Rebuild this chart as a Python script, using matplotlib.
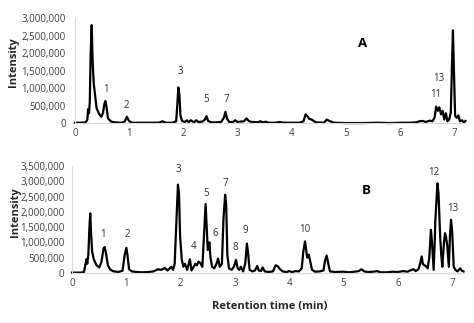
import matplotlib
matplotlib.use("Agg")
import matplotlib.pyplot as plt
from matplotlib.ticker import FuncFormatter, MultipleLocator

plt.rcParams['font.family'] = ['Open Sans', 'DejaVu Sans']

# Chromatogram A: retention time (min) and intensity (millions of counts)
time_a = [0.00, 0.10, 0.20, 0.23, 0.245, 0.26, 0.275, 0.29, 0.31, 0.325, 0.336, 0.35,
          0.40, 0.45, 0.49, 0.52, 0.545, 0.563, 0.58, 0.61, 0.67, 0.75, 0.85, 0.92,
          0.96, 1.00, 1.05, 1.20, 1.40, 1.55, 1.62, 1.68, 1.80, 1.87, 1.89, 1.91,
          1.93, 1.95, 1.98, 2.03, 2.07, 2.10, 2.14, 2.20, 2.24, 2.28, 2.35, 2.40,
          2.43, 2.46, 2.52, 2.60, 2.70, 2.75, 2.78, 2.81, 2.85, 2.92, 2.96, 3.00,
          3.05, 3.12, 3.17, 3.21, 3.26, 3.32, 3.38, 3.42, 3.48, 3.52, 3.58, 3.70,
          3.78, 3.85, 4.00, 4.15, 4.22, 4.26, 4.30, 4.33, 4.37, 4.45, 4.60, 4.65,
          4.70, 4.78, 5.00, 5.30, 5.60, 5.80, 6.05, 6.20, 6.30, 6.36, 6.42, 6.48,
          6.55, 6.60, 6.64, 6.67, 6.70, 6.73, 6.76, 6.79, 6.82, 6.85, 6.88, 6.91,
          6.94, 6.96, 6.98, 7.00, 7.02, 7.05, 7.08, 7.11, 7.15, 7.18, 7.21]
intensity_a = [0.01, 0.01, 0.02, 0.10, 0.40, 0.28, 0.60, 1.90, 2.80, 1.90, 1.47, 1.10,
               0.43, 0.25, 0.18, 0.30, 0.55, 0.63, 0.50, 0.14, 0.04, 0.02, 0.01, 0.04,
               0.18, 0.06, 0.01, 0.01, 0.01, 0.01, 0.05, 0.01, 0.01, 0.05, 0.50, 1.02,
               0.80, 0.20, 0.06, 0.03, 0.08, 0.02, 0.08, 0.02, 0.08, 0.03, 0.04, 0.10,
               0.20, 0.06, 0.02, 0.02, 0.03, 0.15, 0.32, 0.12, 0.03, 0.03, 0.08, 0.03,
               0.04, 0.05, 0.13, 0.06, 0.03, 0.03, 0.02, 0.05, 0.02, 0.04, 0.01, 0.01,
               0.03, 0.01, 0.01, 0.01, 0.05, 0.25, 0.18, 0.12, 0.10, 0.02, 0.01, 0.10,
               0.06, 0.01, 0.00, 0.00, 0.01, 0.00, 0.01, 0.01, 0.02, 0.05, 0.06, 0.03,
               0.07, 0.05, 0.15, 0.47, 0.35, 0.45, 0.25, 0.35, 0.10, 0.28, 0.05, 0.10,
               0.30, 1.50, 2.65, 1.40, 0.20, 0.15, 0.22, 0.05, 0.08, 0.02, 0.06]

# Chromatogram B
time_b = [0.00, 0.15, 0.22, 0.25, 0.265, 0.28, 0.30, 0.32, 0.335, 0.35, 0.37, 0.40,
          0.45, 0.50, 0.54, 0.58, 0.60, 0.62, 0.66, 0.70, 0.75, 0.85, 0.93, 0.97,
          1.00, 1.02, 1.05, 1.10, 1.20, 1.30, 1.40, 1.50, 1.58, 1.64, 1.71, 1.76,
          1.83, 1.86, 1.89, 1.92, 1.95, 1.97, 1.99, 2.02, 2.05, 2.08, 2.12, 2.17,
          2.20, 2.24, 2.27, 2.30, 2.33, 2.36, 2.40, 2.43, 2.46, 2.48, 2.50, 2.53,
          2.55, 2.58, 2.62, 2.66, 2.69, 2.72, 2.76, 2.79, 2.82, 2.84, 2.86, 2.89,
          2.94, 2.98, 3.02, 3.05, 3.08, 3.11, 3.15, 3.19, 3.22, 3.24, 3.27, 3.32,
          3.37, 3.41, 3.44, 3.48, 3.51, 3.55, 3.62, 3.70, 3.75, 3.79, 3.83, 3.88,
          3.95, 4.00, 4.05, 4.12, 4.18, 4.23, 4.26, 4.29, 4.31, 4.33, 4.36, 4.39,
          4.42, 4.48, 4.56, 4.63, 4.66, 4.69, 4.72, 4.75, 4.85, 5.00, 5.10, 5.20,
          5.28, 5.33, 5.38, 5.45, 5.55, 5.62, 5.68, 5.80, 5.90, 6.00, 6.10, 6.18,
          6.25, 6.29, 6.33, 6.38, 6.41, 6.44, 6.46, 6.49, 6.52, 6.55, 6.58, 6.61,
          6.63, 6.66, 6.68, 6.69, 6.73, 6.75, 6.78, 6.80, 6.82, 6.85, 6.87, 6.89,
          6.91, 6.94, 6.96, 6.98, 7.00, 7.03, 7.06, 7.10, 7.15, 7.18, 7.21]
intensity_b = [0.01, 0.01, 0.03, 0.30, 0.45, 0.30, 0.60, 1.50, 1.95, 1.30, 0.70, 0.45,
               0.25, 0.18, 0.35, 0.80, 0.85, 0.70, 0.25, 0.12, 0.06, 0.03, 0.07, 0.60,
               0.82, 0.60, 0.12, 0.05, 0.03, 0.02, 0.03, 0.05, 0.12, 0.10, 0.16, 0.08,
               0.20, 0.10, 0.30, 1.60, 2.89, 2.60, 1.20, 0.45, 0.20, 0.30, 0.10, 0.45,
               0.08, 0.20, 0.30, 0.25, 0.37, 0.33, 0.20, 1.20, 2.26, 1.50, 0.75, 1.00,
               0.50, 0.20, 0.15, 0.30, 0.47, 0.20, 0.30, 1.80, 2.56, 2.20, 0.60, 0.15,
               0.10, 0.20, 0.43, 0.15, 0.10, 0.20, 0.05, 0.30, 0.96, 0.70, 0.10, 0.05,
               0.08, 0.23, 0.08, 0.06, 0.18, 0.05, 0.03, 0.05, 0.25, 0.22, 0.12, 0.05,
               0.03, 0.06, 0.03, 0.06, 0.05, 0.15, 0.70, 1.03, 0.80, 0.50, 0.60, 0.35,
               0.10, 0.04, 0.05, 0.08, 0.40, 0.57, 0.30, 0.05, 0.03, 0.04, 0.02, 0.04,
               0.06, 0.12, 0.05, 0.03, 0.04, 0.06, 0.02, 0.02, 0.04, 0.03, 0.06, 0.04,
               0.10, 0.12, 0.06, 0.12, 0.30, 0.54, 0.30, 0.25, 0.22, 0.15, 0.50, 1.41,
               1.00, 0.10, 1.00, 1.68, 2.93, 2.60, 1.20, 0.60, 0.20, 1.00, 1.30, 1.15,
               0.90, 0.20, 1.20, 1.74, 1.40, 0.20, 0.10, 0.05, 0.15, 0.07, 0.05]

# Peak annotations: label, retention time, label height (millions)
peak_labels_a = ["1", "2", "3", "5", "7", "13", "11"]
peak_time_a = [0.567, 0.955, 1.94, 2.42, 2.79, 6.71, 6.67]
peak_pos_a = [0.97, 0.49, 1.47, 0.66, 0.68, 1.26, 0.83]

peak_labels_b = ["1", "2", "3", "4", "5", "6", "7", "8", "9", "10", "12", "13"]
peak_time_b = [0.565, 1.01, 1.96, 2.23, 2.47, 2.63, 2.82, 3.01, 3.20, 4.29, 6.67, 7.01]
peak_pos_b = [1.25, 1.25, 3.39, 0.88, 2.60, 1.30, 2.93, 0.83, 1.40, 1.43, 3.29, 2.11]

x_ticks = [0, 1, 2, 3, 4, 5, 6, 7]
ymax_a = 3.0
ymax_b = 3.5

TEXT = "#333333"
TICK = "#404040"
AXIS = "#d9d9d9"

fig = plt.figure(figsize=(4.74, 3.23), dpi=100)
ax_a = fig.add_axes([0.158, 0.619, 0.825, 0.325])
ax_b = fig.add_axes([0.152, 0.155, 0.827, 0.331])


def style(ax, ymax, ypad):
    for s in ("top", "right"):
        ax.spines[s].set_visible(False)
    for s in ("left", "bottom"):
        ax.spines[s].set_color(AXIS)
        ax.spines[s].set_linewidth(0.8)
    ax.set_xlim(0, 7.22)
    ax.set_ylim(0, ymax)
    ax.set_xticks(x_ticks)
    ax.yaxis.set_major_locator(MultipleLocator(0.5))
    ax.yaxis.set_major_formatter(
        FuncFormatter(lambda v, p: f"{int(round(v * 1e6)):,}"))
    ax.tick_params(length=0, labelsize=7, colors=TICK)
    ax.tick_params(axis="x", pad=3.5)
    ax.tick_params(axis="y", pad=ypad)
    ax.set_facecolor("none")


style(ax_a, ymax_a, 6.5)
style(ax_b, ymax_b, 5.5)

ax_a.plot(time_a, intensity_a, color="black", lw=1.6, solid_joinstyle="round",
          clip_on=False)
ax_b.plot(time_b, intensity_b, color="black", lw=1.6, solid_joinstyle="round",
          clip_on=False)

for lab, t, y in zip(peak_labels_a, peak_time_a, peak_pos_a):
    ax_a.text(t, y, lab, ha="center", va="center", fontsize=7, color=TEXT)
for lab, t, y in zip(peak_labels_b, peak_time_b, peak_pos_b):
    ax_b.text(t, y, lab, ha="center", va="center", fontsize=7, color=TEXT)

ax_a.text(5.31, 2.28, "A", ha="center", va="center", fontsize=9.5,
          fontweight="bold", color="black")
ax_b.text(5.41, 2.69, "B", ha="center", va="center", fontsize=9.5,
          fontweight="bold", color="black")

fig.text(13 / 474, 1 - 62 / 323, "Intensity", rotation=90, ha="center",
         va="center", fontsize=8, fontweight="bold", color="#262626")
fig.text(15 / 474, 1 - 212 / 323, "Intensity", rotation=90, ha="center",
         va="center", fontsize=8, fontweight="bold", color="#262626")
fig.text(270 / 474, 1 - 307 / 323, "Retention time (min)", ha="center",
         va="center", fontsize=8, fontweight="bold", color="#262626")

fig.savefig("out.png", dpi=100)
